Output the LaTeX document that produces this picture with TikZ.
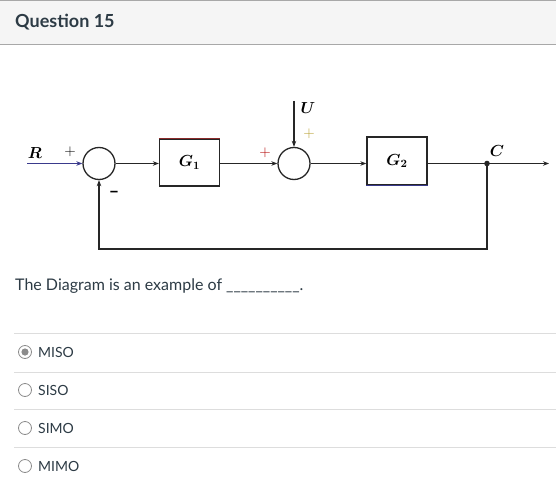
\RequirePackage{fix-cm}
\documentclass[tikz,border=0pt]{standalone}
\usepackage{fontspec}
\setmainfont{Lato}
\usetikzlibrary{arrows.meta}
\definecolor{hdr}{HTML}{F5F5F5}
\definecolor{hline}{HTML}{A8A8A8}
\definecolor{sep}{HTML}{DDDDDD}
\definecolor{txt}{HTML}{2D3B45}
\definecolor{navy}{HTML}{3A3A8C}
\definecolor{dred}{HTML}{8A2A2A}
\definecolor{olive}{HTML}{B8A030}
\begin{document}
\begin{tikzpicture}[x=1pt,y=-1pt,
  wire/.style={line width=1.3pt, draw=black!85},
  arr/.style={wire, -{Stealth[length=6pt,width=4.5pt]}},
  sumnode/.style={circle, draw=black!85, line width=1.3pt, minimum size=32pt, inner sep=0pt},
  block/.style={draw=black!85, line width=1.3pt, minimum width=60pt, minimum height=47pt, inner sep=0pt, font=\fontsize{16}{18}\selectfont\boldmath},
  lbl/.style={font=\fontsize{16}{18}\selectfont\boldmath, inner sep=0pt},
  sgn/.style={font=\fontsize{15}{17}\selectfont, inner sep=0pt},
  sepline/.style={draw=sep, line width=1pt},
  radio/.style={draw=black!45, line width=0.8pt},
  opt/.style={anchor=base west, font=\fontsize{14}{17}\selectfont, text=txt, inner sep=0pt}]
\useasboundingbox (0,0) rectangle (556,476);
\fill[white] (0,0) rectangle (556,476);
% header
\fill[hdr] (0,1) rectangle (556,45);
\draw[hline, line width=1pt] (0,0.5) -- (556,0.5);
\draw[hline, line width=1pt] (0,45) -- (556,45);
\node[anchor=base west, inner sep=0pt, text=txt, font=\fontsize{18}{21}\selectfont\bfseries] (title) at (15,27.5) {Question 15};
% diagram
\node[sumnode] (s1) at (99,163.5) {};
\node[block] (g1) at (189.5,162.5) {$G_1$};
\node[sumnode] (s2) at (294,163.5) {};
\node[block, minimum height=48pt] (g2) at (397,161) {$G_2$};
\draw[dred, line width=1.3pt] (g1.north west) -- (g1.north east);
\draw[navy, line width=1.3pt] (g2.south west) -- (g2.south east);
\coordinate (rin) at (27,163.5);
\coordinate (j) at (487,163.5);
\coordinate (out) at (549,163.5);
\coordinate (utop) at (294,101);
\coordinate (fb1) at (487,249);
\coordinate (fb2) at (99,249);
\draw[arr, draw=navy] (rin) -- (s1.west);
\draw[arr] (s1.east) -- (g1.west |- s1.east);
\draw[arr] (g1.east |- s2.west) -- (s2.west);
\draw[arr] (s2.east) -- (g2.west |- s2.east);
\draw[wire] (g2.east |- j) -- (j);
\draw[arr] (j) -- (out);
\fill[black!85] (j) circle (2.8pt);
\draw[arr] (j) -- (fb1) -- (fb2) -- (s1.south);
\draw[arr] (utop) -- (s2.north);
% labels
\node[lbl] (lR) at (35,153) {$R$};
\node[sgn] (p1) at (70,152) {$+$};
\node[inner sep=0pt, font=\fontsize{18}{20}\selectfont\bfseries] (m1) at (114,194) {–};
\node[sgn, text=red!70!black] (p2) at (265,153) {$+$};
\node[lbl] (lU) at (308,108) {$U$};
\node[sgn, text=olive] (p3) at (309,134) {$+$};
\node[lbl] (lC) at (497,151) {$C$};
% question text
\node[anchor=base west, inner sep=0pt, text=txt, font=\fontsize{16}{19}\selectfont] (q) at (15,290) {The Diagram is an example of \_\_\_\_\_\_\_\_\_\_.};
% options
\foreach \yy in {333,372,409,447} \draw[sepline] (14,\yy) -- (556,\yy);
\draw[radio] (25,352) circle (6.5pt);
\fill[black!45] (25,352) circle (3.6pt);
\draw[radio] (25,390) circle (6.5pt);
\draw[radio] (25,428) circle (6.5pt);
\draw[radio] (25,466) circle (6.5pt);
\node[opt] (o1) at (38,357) {MISO};
\node[opt] (o2) at (38,395) {SISO};
\node[opt] (o3) at (38,433) {SIMO};
\node[opt] (o4) at (38,471) {MIMO};
\end{tikzpicture}
\end{document}
